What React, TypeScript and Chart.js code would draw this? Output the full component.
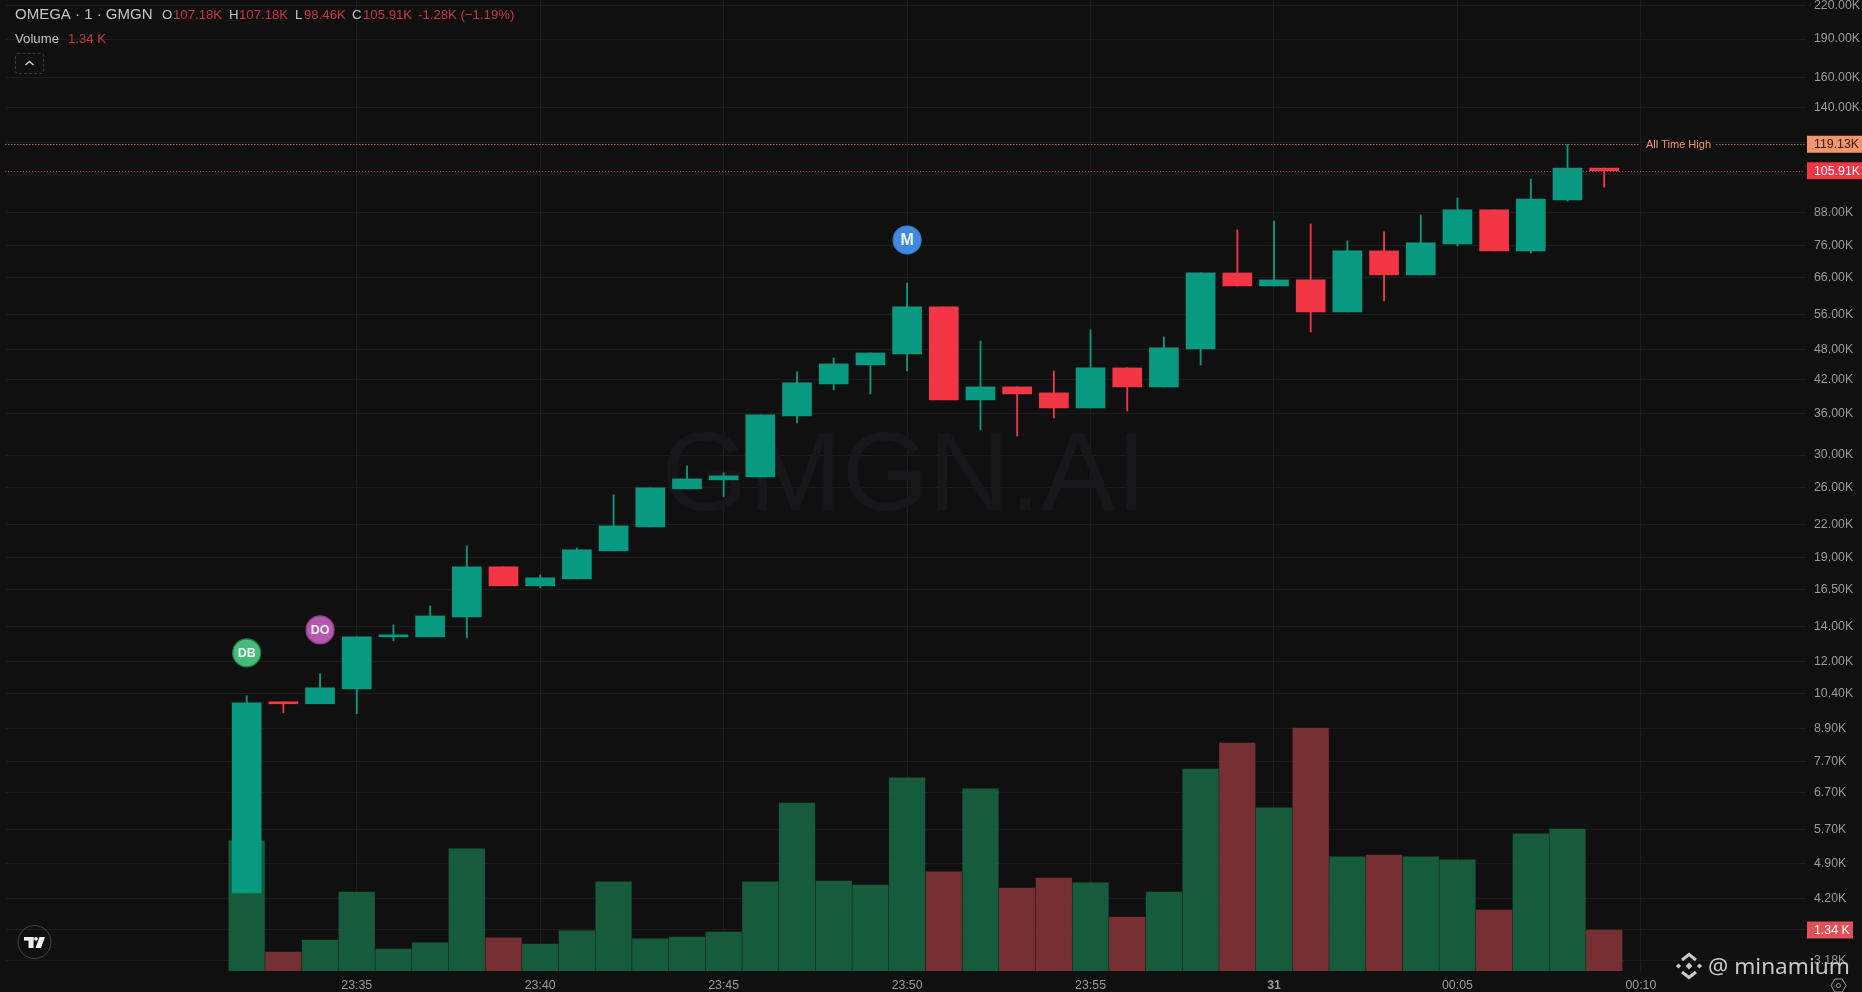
import React, { useEffect, useRef } from "react";
import { Chart, registerables } from "chart.js";

Chart.register(...registerables);

const times = ["23:32","23:33","23:34","23:35","23:36","23:37","23:38","23:39","23:40","23:41","23:42","23:43","23:44","23:45","23:46","23:47","23:48","23:49","23:50","23:51","23:52","23:53","23:54","23:55","23:56","23:57","23:58","23:59","00:00","00:01","00:02","00:03","00:04","00:05","00:06","00:07","00:08","00:09"];
const opens = [4.30,9.99,9.95,10.63,13.39,13.39,14.63,18.27,16.79,17.32,19.61,21.81,25.82,26.87,27.23,35.69,41.13,44.75,46.99,57.88,38.32,40.59,39.53,36.98,44.16,40.59,48.03,67.30,63.53,65.25,56.61,74.21,66.71,76.55,89.01,74.21,93.03,107.18];
const highs = [10.31,10.03,11.36,13.39,14.12,15.36,20.05,18.27,17.63,19.87,25.14,25.93,28.59,27.72,35.85,43.38,46.16,47.19,64.38,57.88,49.78,40.59,43.57,52.27,44.16,50.67,67.30,81.45,84.77,83.64,77.57,80.73,87.05,93.87,89.01,102.10,119.13,107.18];
const lows = [4.30,9.56,9.95,9.52,13.16,13.39,13.33,16.79,16.64,17.32,19.61,21.81,25.82,24.91,27.23,34.60,40.06,39.35,43.57,38.32,33.54,32.66,35.37,36.98,36.49,40.59,44.75,63.53,63.53,51.81,56.61,59.44,66.71,75.87,74.21,73.55,92.62,98.46];
const closes = [9.99,9.95,10.68,13.39,13.45,14.69,18.27,16.79,17.40,19.70,21.91,25.93,26.99,27.35,35.85,41.31,44.95,47.19,57.88,38.32,40.59,39.35,36.98,44.16,40.59,48.25,67.30,63.53,65.25,56.61,74.21,66.71,76.89,89.01,74.21,93.45,107.18,105.91];
const volumes = [4.25,0.62,1.01,2.58,0.72,0.92,3.99,1.08,0.88,1.31,2.91,1.05,1.11,1.27,2.91,5.49,2.94,2.81,6.31,3.24,5.95,2.71,3.04,2.88,1.76,2.58,6.60,7.45,5.33,7.94,3.73,3.79,3.73,3.63,1.99,4.48,4.64,1.34];
const priceTicks = [220,190,160,140,120,104,88,76,66,56,48,42,36,30,26,22,19,16.5,14,12,10.4,8.9,7.7,6.7,5.7,4.9,4.2,3.65,3.18];
const timeTicks = ["23:35","23:40","23:45","23:50","23:55","00:00","00:05","00:10"];
const timeLabels = ["23:35","23:40","23:45","23:50","23:55","31","00:05","00:10"];
const markerLabels = ["DB","DO","M"];
const markerTimes = ["23:32","23:34","23:50"];
const markerPrices = [12.47,13.81,77.9];
const markerFills = ["#46bb7c","#b558b0","#3f8ae0"];
const markerEdges = ["#1f7a4c","#8c3f8a","#3f78c0"];
const allTimeHigh = 119.13;
const lastPrice = 105.91;
const lastVolume = 1.34;

const BG = "#101010";
const GRID = "#1d1d1d";
const UP = "#089981";
const DOWN = "#f23645";
const VOL_UP = "rgba(23,100,64,0.9)";
const VOL_DOWN = "rgba(130,51,54,0.9)";
const TEXT_FONT = '"Liberation Sans", Arial, sans-serif';
const AXIS = "#9a9a9a";

const indexOfTime = (t: string) => {
  const [h, m] = t.split(":").map(Number);
  const minutes = (h === 0 ? 24 * 60 : h * 60) + m;
  return minutes - (23 * 60 + 32);
};

function txt(ctx: any, s: string, x: number, y: number, font: string, color: string, align = "left") {
  ctx.font = font;
  ctx.fillStyle = color;
  ctx.textAlign = align;
  ctx.textBaseline = "middle";
  ctx.fillText(s, x, y);
}

const overlay = {
  id: "overlay",
  beforeDatasetsDraw(chart: any) {
    const { ctx } = chart;
    ctx.save();
    txt(ctx, "GMGN.AI", 904, 479, `112px ${TEXT_FONT}`, "#17171a", "center");
    ctx.restore();
  },
  afterDatasetsDraw(chart: any) {
    const { ctx, scales } = chart;
    const p = scales.price;
    ctx.save();
    const ath = Math.round(p.getPixelForValue(allTimeHigh)) + 0.5;
    ctx.strokeStyle = "#a8674a";
    ctx.lineWidth = 1;
    ctx.setLineDash([1.5, 1.5]);
    ctx.beginPath();
    ctx.moveTo(5, ath); ctx.lineTo(1640, ath);
    ctx.moveTo(1716, ath); ctx.lineTo(1805, ath);
    ctx.stroke();
    const last = Math.round(p.getPixelForValue(lastPrice)) + 0.5;
    ctx.strokeStyle = "rgba(242,54,69,0.8)";
    ctx.setLineDash([1, 2]);
    ctx.beginPath();
    ctx.moveTo(5, last); ctx.lineTo(1804, last);
    ctx.stroke();
    ctx.setLineDash([]);
    txt(ctx, "All Time High", 1646, ath, `11px ${TEXT_FONT}`, "#f5956b");
    const meta = chart.getDatasetMeta(3);
    markerLabels.forEach((l, i) => {
      const el = meta.data[i];
      txt(ctx, l, el.x, el.y + 0.5, `bold ${l === "M" ? 16 : 12.5}px ${TEXT_FONT}`, "#f2f2f2", "center");
    });
    ctx.restore();
  },
  afterDraw(chart: any) {
    const { ctx, scales } = chart;
    const p = scales.price;
    const v = scales.volume;
    ctx.save();
    const small = `13.2px ${TEXT_FONT}`;
    const red = "#c93442";
    const label = "#c4c4c4";
    txt(ctx, "OMEGA · 1 · GMGN", 15, 15, `15px ${TEXT_FONT}`, label);
    txt(ctx, "O", 162, 15, small, label);
    txt(ctx, "107.18K", 173, 15, small, red);
    txt(ctx, "H", 229, 15, small, label);
    txt(ctx, "107.18K", 239, 15, small, red);
    txt(ctx, "L", 295, 15, small, label);
    txt(ctx, "98.46K", 304, 15, small, red);
    txt(ctx, "C", 352, 15, small, label);
    txt(ctx, "105.91K", 363, 15, small, red);
    txt(ctx, "-1.28K (−1.19%)", 418, 15, small, red);
    txt(ctx, "Volume", 15, 39, small, label);
    txt(ctx, "1.34 K", 68, 39, small, red);

    ctx.strokeStyle = "#3c3c3c";
    ctx.lineWidth = 1;
    ctx.setLineDash([3, 2]);
    ctx.beginPath();
    ctx.roundRect(15.5, 53.5, 28, 20, 2);
    ctx.stroke();
    ctx.setLineDash([]);
    ctx.strokeStyle = "#d0d0d0";
    ctx.lineWidth = 1.4;
    ctx.beginPath();
    ctx.moveTo(25.5, 65); ctx.lineTo(29.5, 61.5); ctx.lineTo(33.5, 65);
    ctx.stroke();

    const tag = (x: number, w: number, y: number, fill: string, s: string, color: string, font: string) => {
      ctx.fillStyle = fill;
      ctx.fillRect(x, y - 8.5, w, 17);
      txt(ctx, s, 1814, y + 0.5, font, color);
    };
    const tick = `12.35px ${TEXT_FONT}`;
    tag(1807, 55, p.getPixelForValue(allTimeHigh), "#f5956b", allTimeHigh.toFixed(2) + "K", "#2a1d15", tick);
    tag(1807, 55, p.getPixelForValue(lastPrice), DOWN, lastPrice.toFixed(2) + "K", "#ffffff", tick);
    tag(1807, 46, v.getPixelForValue(lastVolume), "#e0525a", lastVolume.toFixed(2) + " K", "#ffffff", tick);

    // chart-library logo
    ctx.strokeStyle = "#454545";
    ctx.lineWidth = 1;
    ctx.beginPath();
    ctx.arc(34.5, 942, 16.5, 0, Math.PI * 2);
    ctx.stroke();
    ctx.fillStyle = "#f0f0f0";
    ctx.fillRect(24, 937, 9.5, 3.6);
    ctx.fillRect(28.5, 937, 5, 11);
    ctx.beginPath();
    ctx.arc(36, 938.8, 1.9, 0, Math.PI * 2);
    ctx.fill();
    ctx.beginPath();
    ctx.moveTo(39.5, 937); ctx.lineTo(45, 937); ctx.lineTo(41, 948); ctx.lineTo(35.5, 948);
    ctx.closePath();
    ctx.fill();

    // settings glyph
    ctx.strokeStyle = "#9a9a9a";
    ctx.lineWidth = 1;
    ctx.beginPath();
    const cx = 1838.5, cy = 985.5, r = 7.5;
    for (let i = 0; i < 6; i++) {
      const a = (Math.PI / 3) * i;
      const px = cx + r * Math.cos(a), py = cy + r * Math.sin(a);
      if (i === 0) ctx.moveTo(px, py); else ctx.lineTo(px, py);
    }
    ctx.closePath();
    ctx.stroke();
    ctx.beginPath();
    ctx.arc(cx, cy, 2, 0, Math.PI * 2);
    ctx.stroke();

    // publisher mark
    const mark = "#c8c8c8";
    ctx.fillStyle = mark;
    const diamond = (x: number, y: number, s: number) => {
      ctx.beginPath();
      ctx.moveTo(x, y - s); ctx.lineTo(x + s, y); ctx.lineTo(x, y + s); ctx.lineTo(x - s, y);
      ctx.closePath();
      ctx.fill();
    };
    diamond(1689, 966, 3.4);
    diamond(1678.5, 966, 2.6);
    diamond(1699.5, 966, 2.6);
    ctx.lineWidth = 3;
    ctx.strokeStyle = mark;
    ctx.beginPath();
    ctx.moveTo(1682, 960); ctx.lineTo(1689, 954.5); ctx.lineTo(1696, 960);
    ctx.moveTo(1682, 972); ctx.lineTo(1689, 977.5); ctx.lineTo(1696, 972);
    ctx.stroke();
    txt(ctx, "@ minamium", 1708, 968, `22.6px "Noto Sans", sans-serif`, mark);
    ctx.restore();
  },
};

const noPadding = (s: any) => {
  s.paddingLeft = 0;
  s.paddingRight = 0;
  s.paddingTop = 0;
  s.paddingBottom = 0;
};

export default function App() {
  const ref = useRef<HTMLCanvasElement | null>(null);
  useEffect(() => {
    const candleColors = closes.map((c, i) => (c < opens[i] ? DOWN : UP));
    const chart = new Chart(ref.current as HTMLCanvasElement, {
      type: "bar",
      data: {
        datasets: [
          {
            label: "Volume",
            yAxisID: "volume",
            order: 3,
            barThickness: 35.6,
            data: volumes.map((v, i) => ({ x: indexOfTime(times[i]), y: v })),
            backgroundColor: closes.map((c, i) => (c < opens[i] ? VOL_DOWN : VOL_UP)),
          },
          {
            label: "Wick",
            yAxisID: "price",
            order: 2,
            barThickness: 1.2,
            data: lows.map((l, i) => ({ x: indexOfTime(times[i]), y: [l, highs[i]] })),
            backgroundColor: candleColors,
          },
          {
            label: "Body",
            yAxisID: "price",
            order: 1,
            barThickness: 29,
            data: opens.map((o, i) => ({ x: indexOfTime(times[i]), y: [Math.min(o, closes[i]), Math.max(o, closes[i])] })),
            backgroundColor: candleColors,
            minBarLength: 2,
          },
          {
            type: "scatter",
            label: "Markers",
            yAxisID: "price",
            order: 0,
            data: markerPrices.map((y, i) => ({ x: indexOfTime(markerTimes[i]), y })),
            pointRadius: 14,
            pointBorderWidth: 1.2,
            pointBackgroundColor: markerFills,
            pointBorderColor: markerEdges,
          },
        ] as any,
      },
      options: {
        animation: false,
        responsive: false,
        devicePixelRatio: 1,
        layout: { autoPadding: false, padding: { left: 6, right: 0, top: 0, bottom: 0 } },
        datasets: { bar: { grouped: false } },
        plugins: { legend: { display: false }, tooltip: { enabled: false }, title: { display: false } },
        scales: {
          x: {
            type: "linear",
            offset: false,
            min: -6.56,
            max: 42.5,
            afterBuildTicks: (s: any) => {
              s.ticks = timeTicks.map((t) => ({ value: indexOfTime(t) }));
            },
            afterFit: (s: any) => { s.height = 21; noPadding(s); },
            grid: { color: GRID, drawTicks: false, lineWidth: 1, offset: false },
            border: { display: false },
            ticks: {
              autoSkip: false,
              maxRotation: 0,
              padding: 7,
              color: AXIS,
              font: (c: any) => ({
                family: TEXT_FONT,
                size: 12.35,
                weight: timeLabels[timeTicks.findIndex((t) => indexOfTime(t) === c.tick?.value)] === "31" ? "bold" : "normal",
              }),
              callback: (val: any) => timeLabels[timeTicks.findIndex((t) => indexOfTime(t) === val)],
            },
          },
          price: {
            type: "logarithmic",
            position: "right",
            min: 3.04,
            max: 225.93,
            afterBuildTicks: (s: any) => {
              s.ticks = priceTicks.map((value) => ({ value }));
            },
            afterFit: (s: any) => { s.width = 56; noPadding(s); },
            grid: { color: GRID, drawTicks: false, lineWidth: 1 },
            border: { display: false },
            ticks: {
              autoSkip: false,
              padding: 8,
              color: AXIS,
              font: { family: TEXT_FONT, size: 12.35 },
              callback: (val: any) => Number(val).toFixed(2) + "K",
            },
          },
          volume: {
            type: "linear",
            display: false,
            min: 0,
            max: 31.73,
          },
        },
      } as any,
      plugins: [overlay],
    });
    return () => chart.destroy();
  }, []);
  return (
    <div style={{ position: "fixed", inset: 0, background: BG }}>
      <canvas ref={ref} width={1862} height={992} style={{ display: "block", width: 1862, height: 992 }} />
    </div>
  );
}
